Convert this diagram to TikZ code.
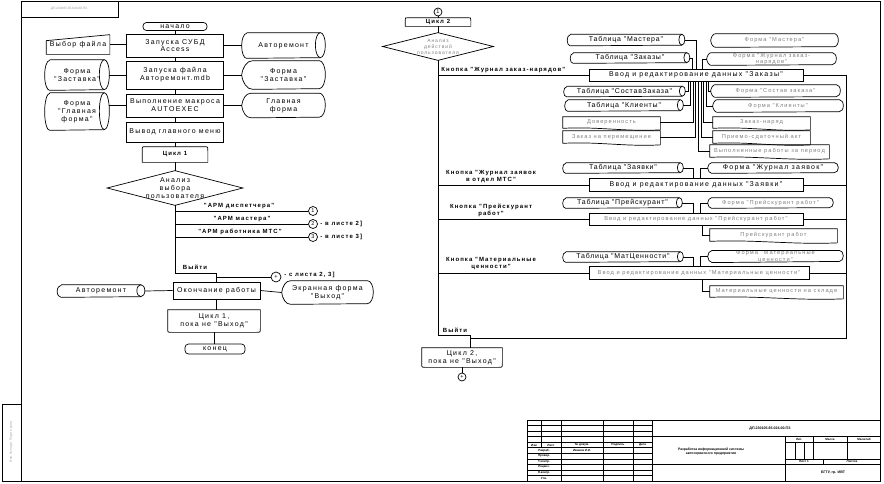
\documentclass[tikz,border=0pt]{standalone}
\usepackage{fontspec}
\setmainfont{Liberation Sans}
\newfontfamily\spc{Liberation Sans}[LetterSpace=18]
\newfontfamily\spt{Liberation Sans}[LetterSpace=11]
\usetikzlibrary{calc}
\newcommand\drumO[3]{\draw ($(#1.north west)+(#2pt,0pt)$) -- ($(#1.north east)+(-#2pt,0pt)$) arc[start angle=90,end angle=-90,x radius=#2pt,y radius=#3pt] -- ($(#1.south west)+(#2pt,0pt)$) arc[start angle=270,end angle=90,x radius=#2pt,y radius=#3pt];
 \draw ($(#1.north east)+(-#2pt,0pt)$) arc[start angle=90,end angle=270,x radius=#2pt,y radius=#3pt];}
\newcommand\dispO[3]{\draw (#1.west) .. controls ($(#1.west)+(0.08*#3pt,0.55*#3pt)$) and ($(#1.north west)+(0.35*#3pt,0pt)$) .. ($(#1.north west)+(0.8*#3pt,0pt)$) -- ($(#1.north east)+(-#2pt,0pt)$) arc[start angle=90,end angle=-90,x radius=#2pt,y radius=#3pt] -- ($(#1.south west)+(0.8*#3pt,0pt)$) .. controls ($(#1.south west)+(0.35*#3pt,0pt)$) and ($(#1.west)+(0.08*#3pt,-0.55*#3pt)$) .. (#1.west);}
\newcommand\docO[1]{\draw (#1.south west) -- (#1.north west) -- (#1.north east) -- ($(#1.south east)+(0pt,-1.5pt)$) .. controls ($(#1.south east)!0.35!(#1.south west)+(0pt,-3.5pt)$) and ($(#1.south east)!0.65!(#1.south west)+(0pt,2pt)$) .. (#1.south west);}
\newcommand\ltopO[2]{\draw (#1.south west) -- ($(#1.north west)+(0pt,-#2pt)$) .. controls (#1.north west) .. ($(#1.north west)+(#2pt,0pt)$) -- ($(#1.north east)+(-#2pt,0pt)$) .. controls (#1.north east) .. ($(#1.north east)+(0pt,-#2pt)$) -- (#1.south east) -- cycle;}
\newcommand\lbotO[2]{\draw (#1.north west) -- ($(#1.south west)+(0pt,#2pt)$) .. controls (#1.south west) .. ($(#1.south west)+(#2pt,0pt)$) -- ($(#1.south east)+(-#2pt,0pt)$) .. controls (#1.south east) .. ($(#1.south east)+(0pt,#2pt)$) -- (#1.north east) -- cycle;}
\newcommand\diaO[1]{\draw (#1.north) -- (#1.east) -- (#1.south) -- (#1.west) -- cycle;}
\newcommand\manO[2]{\draw (#1.south west) -- ($(#1.north west)+(0pt,-#2pt)$) -- (#1.north east) -- (#1.south east) -- cycle;}
\tikzset{
 tx/.style={inner sep=0pt, align=center, font=\spc\fontsize{7}{7.8}\selectfont},
 ttx/.style={inner sep=0pt, align=center, font=\spt\fontsize{7}{7.8}\selectfont},
 gx/.style={inner sep=0pt, align=center, font=\spc\fontsize{5.7}{6.4}\selectfont, text=black!50},
 bx/.style={inner sep=0pt, align=center, font=\spc\bfseries\fontsize{6}{7.2}\selectfont},
 boxs/.style={draw, tx},
 term/.style={draw, rounded corners=3.5pt, tx},
 cnode/.style={circle, draw, inner sep=0pt, minimum size=9pt, font=\fontsize{5.5}{5.5}\selectfont},
 tb/.style={inner sep=0pt, font=\bfseries\fontsize{3}{3.5}\selectfont},
 tg/.style={inner sep=0pt, font=\fontsize{3.2}{3.5}\selectfont, text=black!40},
}
\begin{document}
\begin{tikzpicture}[x=1pt,y=-1pt,line width=0.7pt]
\useasboundingbox (0,0) rectangle (884,483);
% frame
\draw (21,1) rectangle (880,481);
\draw (21,1) rectangle (118,17);
\node[tg] (stamp) at (69,9) {ДП.230105.65.024.00.ПЗ};
\draw (2,404) rectangle (21,481);
\node[tg, rotate=90] (inv) at (11,442) {Инв. № подл. Подп. и дата};

% ===== left flowchart =====
\node[term, minimum width=64pt, minimum height=8pt] (nach) at (175,26.5) {начало};
\node[boxs, minimum width=97pt, minimum height=23pt] (b1) at (175,45.5) {Запуска СУБД\\Access};
\node[boxs, minimum width=97pt, minimum height=28pt] (b2) at (175,75) {Запуска файла\\Авторемонт.mdb};
\node[boxs, minimum width=97pt, minimum height=23pt] (b3) at (175,105.5) {Выполнение макроса\\AUTOEXEC};
\node[boxs, minimum width=97pt, minimum height=20pt] (b4) at (175,132) {Вывод главного меню};
\node[bx, minimum width=65pt, minimum height=15pt] (c1s) at (175,154.5) {Цикл 1};
\ltopO{c1s}{4}
\node[tx, minimum width=135pt, minimum height=34pt] (dia1) at (175,188) {Анализ\\выбора\\пользователя};
\diaO{dia1}
\node[tx, minimum width=63pt, minimum height=19pt] (vybor) at (78,44.5) {\raisebox{-2.5pt}{Выбор файла}};
\manO{vybor}{6}
\node[tx, minimum width=64pt, minimum height=30pt] (fz1) at (77,75) {Форма\\"Заставка"};
\drumO{fz1}{5}{15}
\node[tx, minimum width=64pt, minimum height=37pt] (fgl) at (77,111.5) {Форма\\"Главная\\форма"};
\drumO{fgl}{5}{18.5}
\node[tx, minimum width=83pt, minimum height=25pt] (av1) at (283.5,45.5) {Авторемонт};
\drumO{av1}{5}{12.5}
\node[tx, minimum width=83pt, minimum height=28pt] (fz2) at (283.5,75) {Форма\\"Заставка"};
\dispO{fz2}{6}{14}
\node[tx, minimum width=83pt, minimum height=24pt] (gl) at (283.5,105.5) {Главная\\форма};
\dispO{gl}{6}{12}
\draw (nach) -- (b1); \draw (b1) -- (b2); \draw (b2) -- (b3); \draw (b3) -- (b4);
\draw (b4) -- (c1s); \draw (c1s) -- (dia1);
\draw (vybor.east) -- (vybor.east -| b1.west);
\draw (fz1.east) -- (b2.west);
\draw (b3.west) -- (b3.west -| fgl.east);
\draw (b1.east) -- (av1.west);
\draw (b2.east) -- (fz2.west);
\draw (b3.east) -- (gl.west);

\node[cnode] (c1) at (313,211) {1};
\node[cnode] (c2) at (313,224) {2};
\node[cnode] (c3) at (313,237) {3};
\node[bx] (l1) at (239,206) {"АРМ диспетчера"};
\node[bx] (l2) at (242,219) {"АРМ мастера"};
\node[bx] (l3) at (240,232) {"АРМ работника МТС"};
\node[bx, anchor=west] (l2b) at (320,224) {- в листе 2]};
\node[bx, anchor=west] (l3b) at (320,237) {- в листе 3]};
\node[bx] (vy1) at (195,267) {Выйти};
\coordinate (j1) at (175,273);
\draw (c1.west) -- (c1.west -| j1);
\draw (c2.west) -- (c2.west -| j1);
\draw (c3.west) -- (c3.west -| j1);

\node[boxs, minimum width=87pt, minimum height=17pt] (ok) at (216.5,290.5) {Окончание работы};
\node[cnode, minimum size=10pt] (cpl) at (276,277) {+};
\node[bx, anchor=west] (lpl) at (284,275) {- с листа 2, 3]};
\node[tx, minimum width=87pt, minimum height=12pt] (av2) at (101,291) {Авторемонт};
\drumO{av2}{4}{6}
\node[tx, minimum width=91pt, minimum height=23pt] (vyh) at (327.5,292.5) {Экранная форма\\"Выход"};
\dispO{vyh}{6}{11.5}
\node[tx, minimum width=92pt, minimum height=22pt] (c1e) at (214,321) {Цикл 1,\\пока не "Выход"};
\lbotO{c1e}{4}
\node[term, minimum width=60pt, minimum height=10pt] (kon) at (215,349) {конец};
\draw (dia1.south) -- (j1) -| (ok.north);
\draw (cpl.west) -- (cpl.west -| ok.north);
\draw (ok.west) -- (av2.east);
\draw (ok.east) -- (vyh.west);
\draw (ok.south) -- (ok.south |- c1e.north);
\draw (c1e.south) -- (c1e.south |- kon.north);

% ===== right flowchart =====
\node[cnode, minimum size=8pt] (r1) at (438,12) {1};
\node[bx, minimum width=65pt, minimum height=8pt] (c2s) at (438,22) {Цикл 2};
\ltopO{c2s}{3}
\node[gx, font=\spc\fontsize{5}{5.8}\selectfont, minimum width=110pt, minimum height=27pt] (dia2) at (438,46.5) {Анализ\\действий\\пользователя};
\diaO{dia2}
\draw (r1) -- (c2s); \draw (c2s) -- (dia2);

% section 1
\node[bx, anchor=west] (lab1) at (441,70.5) {Кнопка "Журнал заказ-нарядов"};
\node[ttx, minimum width=117pt, minimum height=11pt] (tMast) at (626,40) {Таблица "Мастера"};
\drumO{tMast}{3}{5.5}
\node[ttx, minimum width=119pt, minimum height=10pt] (tZak) at (630,58) {Таблица "Заказы"};
\drumO{tZak}{3}{5}
\node[gx, minimum width=127pt, minimum height=13pt] (fMast) at (774.5,40.5) {Форма "Мастера"};
\dispO{fMast}{4}{6.5}
\node[gx, minimum width=129pt, minimum height=12pt] (fZh) at (771.5,59) {Форма "Журнал заказ-\\нарядов"};
\dispO{fZh}{4}{6}
\node[boxs, minimum width=214pt, minimum height=12pt] (vz) at (696,75) {Ввод и редактирование данных "Заказы"};
\node[ttx, minimum width=121pt, minimum height=10pt] (tSost) at (624.5,91.5) {Таблица "СоставЗаказа"};
\drumO{tSost}{3}{5}
\node[ttx, minimum width=118pt, minimum height=11pt] (tKli) at (624,105.5) {Таблица "Клиенты"};
\drumO{tKli}{3}{5.5}
\node[gx, minimum width=97pt, minimum height=11pt] (dDov) at (611.5,122.5) {Доверенность};
\docO{dDov}
\node[gx, minimum width=97pt, minimum height=12pt] (dZper) at (611.5,137) {Заказ на перемещение};
\docO{dZper}
\node[gx, minimum width=129pt, minimum height=12pt] (fSost) at (775.5,91) {Форма "Состав заказа"};
\dispO{fSost}{4}{6}
\node[gx, minimum width=130pt, minimum height=12pt] (fKli) at (778,106) {Форма "Клиенты"};
\dispO{fKli}{4}{6}
\node[gx, minimum width=97pt, minimum height=11pt] (dZn) at (761.5,122.5) {Заказ-наряд};
\docO{dZn}
\node[gx, minimum width=97pt, minimum height=12pt] (dPsa) at (761.5,137) {Приемо-сдаточный акт};
\docO{dPsa}
\node[gx, minimum width=119pt, minimum height=12pt] (dVyp) at (769.5,151) {Выполненные работы за период};
\docO{dVyp}
\draw (tMast.east) -| (vz.north);
\draw (tZak.east) -| ([xshift=-4pt]vz.north);
\draw (fZh.west) -| ([xshift=6pt]vz.north);
\draw (tSost.east) -| ([xshift=-8pt]vz.south);
\draw (tKli.east) -| ([xshift=-5.5pt]vz.south);
\draw (dDov.east) -| ([xshift=-3pt]vz.south);
\draw (dZper.east) -| ([xshift=-0.5pt]vz.south);
\draw ([xshift=2.5pt]vz.south) |- (dVyp.west);
\draw ([xshift=5pt]vz.south) |- (dPsa.west);
\draw ([xshift=7.5pt]vz.south) |- (dZn.west);
\draw ([xshift=10pt]vz.south) |- (fKli.west);
\draw ([xshift=12.5pt]vz.south) |- (fSost.west);

% section 2
\node[bx] (lab2) at (491,176.5) {Кнопка "Журнал заявок\\в отдел МТС"};
\node[ttx, minimum width=120pt, minimum height=10pt] (tZay) at (623,168) {Таблица "Заявки"};
\drumO{tZay}{3}{5}
\node[tx, minimum width=130pt, minimum height=10pt] (fZhz) at (773,168) {Форма "Журнал заявок"};
\dispO{fZhz}{4}{5}
\node[boxs, minimum width=214pt, minimum height=13pt] (vzy) at (696,185) {Ввод и редактирование данных "Заявки"};
\draw (tZay.east) -| ([xshift=-3pt]vzy.north);
\draw (fZhz.west) -| ([xshift=4pt]vzy.north);

% section 3
\node[bx] (lab3) at (491,210.5) {Кнопка "Прейскурант\\работ"};
\node[ttx, minimum width=119pt, minimum height=10pt] (tPr) at (622.5,203) {Таблица "Прейскурант"};
\drumO{tPr}{3}{5}
\node[gx, minimum width=125pt, minimum height=10pt] (fPr) at (770.5,203) {Форма "Прейскурант работ"};
\dispO{fPr}{4}{5}
\node[gx, draw=black, minimum width=214pt, minimum height=12pt] (vp) at (696,219) {Ввод и редактирование данных "Прейскурант работ"};
\node[gx, minimum width=127pt, minimum height=12pt] (dPr) at (773.5,235) {Прейскурант работ};
\docO{dPr}
\draw (tPr.east) -| ([xshift=-3pt]vp.north);
\draw (fPr.west) -| ([xshift=4pt]vp.north);
\draw ([xshift=6pt]vp.south) |- (dPr.west);

% section 4
\node[bx] (lab4) at (491,263.5) {Кнопка "Материальные\\ценности"};
\node[ttx, minimum width=120pt, minimum height=10pt] (tMat) at (623,257) {Таблица "МатЦенности"};
\drumO{tMat}{3}{5}
\node[gx, minimum width=135pt, minimum height=11pt] (fMat) at (775.5,256.5) {Форма "Материальные\\ценности"};
\dispO{fMat}{4}{5.5}
\node[gx, draw=black, minimum width=220pt, minimum height=13pt] (vm) at (699,273) {Ввод и редактирование данных "Материальные ценности"};
\node[gx, minimum width=133pt, minimum height=11pt] (dMs) at (776.5,291.5) {Материальные ценности на складе};
\docO{dMs}
\draw (tMat.east) -| ([xshift=-6pt]vm.north);
\draw (fMat.west) -| ([xshift=1pt]vm.north);
\draw ([xshift=3pt]vm.south) |- (dMs.west);

% trunk lines
\coordinate (rt) at (846,75);
\coordinate (rb) at (846,338);
\coordinate (jb) at (470,335);
\coordinate (lb) at (438,335);
\node[bx] (vy2) at (455,330) {Выйти};
\node[tx, minimum width=80pt, minimum height=19pt] (c2e) at (462,357.5) {Цикл 2,\\пока не "Выход"};
\lbotO{c2e}{4}
\node[cnode, minimum size=8pt] (cpl2) at (462,377) {+};
\draw (vz.east) -- (rt) -- (rb) -- (rb -| jb);
\draw (vzy.east) -- (vzy.east -| rt);
\draw (vp.east) -- (vp.east -| rt);
\draw (vm.east) -- (vm.east -| rt);
\draw (dia2.south) -- (lb) -- (jb) -- (jb |- c2e.north);
\draw (vz.west) -- (vz.west -| lb);
\draw (vzy.west) -- (vzy.west -| lb);
\draw (vp.west) -- (vp.west -| lb);
\draw (vm.west) -- (vm.west -| lb);
\draw (c2e) -- (cpl2);

% ===== title block =====
\begin{scope}[line width=0.6pt]
\draw (527,420) rectangle (880,481);
\foreach \i in {1,...,10} {\draw (527,{420+\i*5.545}) -- (652,{420+\i*5.545});}
\draw (541,420) -- (541,447.7);
\foreach \xx in {561,603,633,652} {\draw (\xx,420) -- (\xx,481);}
\draw (652,436.6) -- (880,436.6);
\draw (785,442.2) -- (880,442.2);
\draw (785,458.8) -- (880,458.8);
\draw (652,464.4) -- (880,464.4);
\draw (785,436.6) -- (785,481);
\draw (813,436.6) -- (813,458.8);
\draw (847,436.6) -- (847,458.8);
\draw (795,442.2) -- (795,458.8);
\draw (804,442.2) -- (804,458.8);
\draw (823,458.8) -- (823,464.4);
\end{scope}
\node[tb] (t1) at (534,445) {Изм};
\node[tb] (t2) at (551,445) {Лист};
\node[tb] (t3) at (582,445) {№ докум.};
\node[tb] (t4) at (618,445) {Подпись};
\node[tb] (t5) at (642.5,445) {Дата};
\node[tb] (t6) at (544,450.5) {Разраб.};
\node[tb] (t6b) at (582,450.5) {Иванов И.И.};
\node[tb] (t7) at (544,456) {Провер.};
\node[tb] (t8) at (544,461.6) {Т.контр.};
\node[tb] (t9) at (544,467.1) {Реценз.};
\node[tb] (t10) at (544,472.7) {Н.контр.};
\node[tb] (t11) at (544,478.2) {Утв.};
\node[tb] (t12) at (799,439.4) {Лит.};
\node[tb] (t13) at (830,439.4) {Масса};
\node[tb] (t14) at (864,439.4) {Масштаб};
\node[tb] (t15) at (804,461.6) {Лист 1};
\node[tb] (t16) at (852,461.6) {Листов};
\node[tb, font=\bfseries\fontsize{3.6}{4}\selectfont] (t17) at (833,472.7) {БГТУ, гр. ИВТ};
\node[tb, font=\bfseries\fontsize{3.6}{4}\selectfont] (t18) at (770,428.3) {ДП.230105.65.024.00.ПЗ};
\node[tb, align=center, font=\bfseries\fontsize{3.4}{4.4}\selectfont] (t19) at (711,451.5) {Разработка информационной системы\\автосервисного предприятия};
\end{tikzpicture}
\end{document}
